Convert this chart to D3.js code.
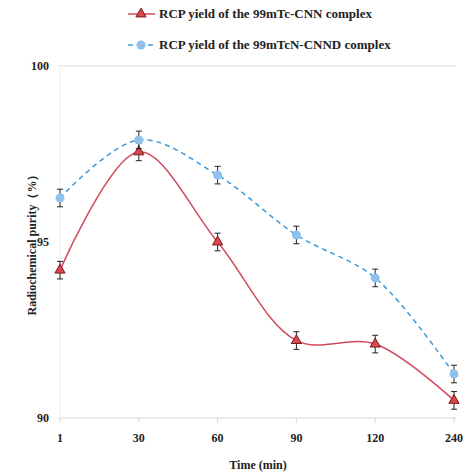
<!DOCTYPE html><html><head><meta charset="utf-8"><script src="https://cdn.jsdelivr.net/npm/d3@7"></script>
<style>body{margin:0;background:#fff}</style></head><body><svg id="c" width="474" height="474"></svg>
<script>
const categories=["1","30","60","90","120","240"];
const redValues=[94.2,97.56,95.0,92.2,92.1,90.5];
const blueValues=[96.25,97.9,96.9,95.2,93.98,91.25];
const errors=[0.25,0.25,0.25,0.25,0.25,0.25];
const yTicks=[90,95,100];
const svg=d3.select("#c");
const font="Liberation Serif";
const x=d3.scalePoint().domain(categories).range([60,454]);
const y=d3.scaleLinear().domain([90,100]).range([418,66]);
svg.append("line").attr("x1",58).attr("x2",456).attr("y1",y(100)).attr("y2",y(100)).attr("stroke","#d9d9d9");
svg.append("line").attr("x1",58).attr("x2",456).attr("y1",y(90)).attr("y2",y(90)).attr("stroke","#d9d9d9");
svg.append("line").attr("x1",60).attr("x2",60).attr("y1",y(100)).attr("y2",y(90)).attr("stroke","#eee");
categories.forEach(c=>svg.append("line").attr("x1",x(c)).attr("x2",x(c)).attr("y1",418).attr("y2",423).attr("stroke","#d9d9d9"));
svg.selectAll(".yt").data(yTicks).enter().append("text").attr("x",49).attr("y",d=>y(d)+4).attr("text-anchor","end")
 .attr("font-family",font).attr("font-weight","bold").attr("font-size",12).attr("fill","#222").text(d=>d);
svg.selectAll(".xt").data(categories).enter().append("text").attr("x",d=>x(d)).attr("y",442).attr("text-anchor","middle")
 .attr("font-family",font).attr("font-weight","bold").attr("font-size",12).attr("fill","#222").text(d=>d);
svg.append("text").attr("transform","translate(36,242) rotate(-90)").attr("text-anchor","middle").attr("font-family",font)
 .attr("font-weight","bold").attr("font-size",12).attr("fill","#222").text("Radiochemical purity（%）");
svg.append("text").attr("x",258).attr("y",469).attr("text-anchor","middle").attr("font-family",font)
 .attr("font-weight","bold").attr("font-size",12).attr("fill","#222").text("Time (min)");
const line=d3.line().x((d,i)=>x(categories[i])).y(d=>y(d)).curve(d3.curveCatmullRom);
function series(vals,color,dash,sym){
 svg.append("path").attr("d",line(vals)).attr("fill","none").attr("stroke",color).attr("stroke-width",1.5).attr("stroke-dasharray",dash);
 vals.forEach((v,i)=>{const cx=x(categories[i]);
  svg.append("line").attr("x1",cx).attr("x2",cx).attr("y1",y(v+errors[i])).attr("y2",y(v-errors[i])).attr("stroke","#222");
  [v+errors[i],v-errors[i]].forEach(e=>svg.append("line").attr("x1",cx-3).attr("x2",cx+3).attr("y1",y(e)).attr("y2",y(e)).attr("stroke","#222"));
  sym(cx,y(v));});
}
const tri=(cx,cy)=>svg.append("path").attr("d",d3.symbol(d3.symbolTriangle,45)()).attr("transform",`translate(${cx},${cy})`).attr("fill","#d9474f").attr("stroke","#7a1a20");
const dot=(cx,cy)=>svg.append("circle").attr("cx",cx).attr("cy",cy).attr("r",4.5).attr("fill","#8fc1ec");
series(redValues,"#d14a5e",null,tri);
series(blueValues,"#3d9ad8","5,4",dot);
svg.append("line").attr("x1",128).attr("x2",155).attr("y1",14).attr("y2",14).attr("stroke","#d14a5e").attr("stroke-width",1.5);
tri(141,14);
svg.append("text").attr("x",159).attr("y",18).attr("font-family",font).attr("font-weight","bold").attr("font-size",13).attr("fill","#222").text("RCP yield of the 99mTc-CNN complex");
svg.append("line").attr("x1",128).attr("x2",155).attr("y1",45).attr("y2",45).attr("stroke","#3d9ad8").attr("stroke-width",1.5).attr("stroke-dasharray","5,5");
dot(141,45);
svg.append("text").attr("x",159).attr("y",49).attr("font-family",font).attr("font-weight","bold").attr("font-size",13).attr("fill","#222").text("RCP yield of the 99mTcN-CNND complex");
</script></body></html>
